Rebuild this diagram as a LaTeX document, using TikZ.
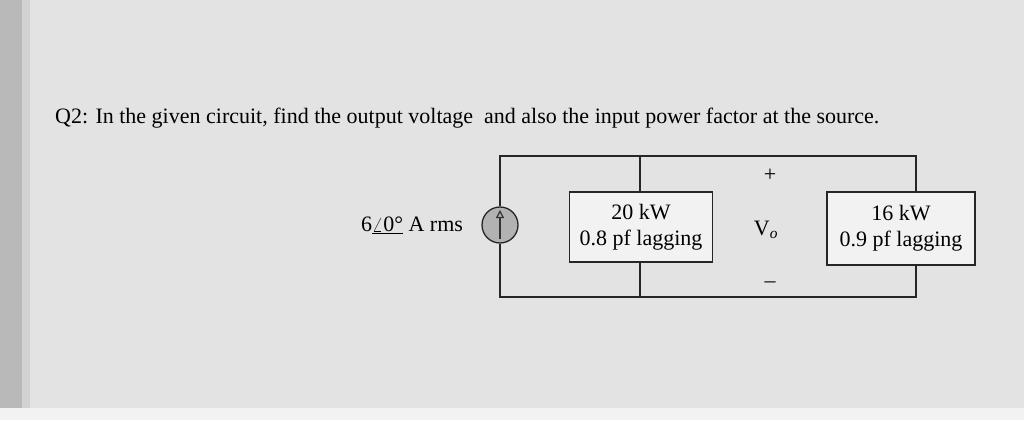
\documentclass[tikz,border=0pt]{standalone}
\usepackage{fontspec}
\setmainfont{Liberation Serif}
\usetikzlibrary{arrows.meta}
\begin{document}
\begin{tikzpicture}[x=1pt,y=-1pt,
  wire/.style={line width=1.3pt,black!85},
  load/.style={draw=black!85,line width=1.3pt,fill=white!90!gray,minimum width=143pt,minimum height=70pt,align=center,font=\fontsize{22}{26}\selectfont},
  lbl/.style={font=\fontsize{22}{26}\selectfont}]
\useasboundingbox (0,0) rectangle (1024,420);
\fill[gray!22] (0,0) rectangle (1024,420);
\fill[gray!55] (0,0) rectangle (22,420);
\fill[gray!35] (22,0) rectangle (30,420);
\fill[gray!10] (0,408) rectangle (1024,420);
\node[lbl,anchor=west,inner sep=0pt] (title) at (55,118) {Q2: In the given circuit, find the output voltage\enspace and also the input power factor at the source.};
\coordinate (tl) at (500,156); \coordinate (tr) at (916,156);
\coordinate (bl) at (500,297); \coordinate (br) at (916,297);
\coordinate (tm) at (640,156); \coordinate (bm) at (640,297);
\node[circle,draw=black!85,line width=1.3pt,fill=gray!60,minimum width=32pt,minimum height=36pt,inner sep=0pt] (src) at (500,225) {};
\coordinate (a1) at (500,239); \coordinate (a2) at (500,210);
\draw[line width=2pt,black!80,-{Triangle[length=8pt,width=8pt,open,line width=1.2pt]}] (a1) -- (a2);
\node[load] (l1) at (641,227) {20 kW\\0.8 pf lagging};
\node[load,minimum width=148pt,minimum height=73pt] (l2) at (901,228.5) {16 kW\\0.9 pf lagging};
\draw[wire] (src.north) -- (tl) -- (tr) -- (l2.north -| tr);
\draw[wire] (src.south) -- (bl) -- (br) -- (l2.south -| br);
\draw[wire] (tm) -- (l1.north -| tm);
\draw[wire] (bm) -- (l1.south -| bm);
\node[lbl] (plus) at (770,175) {+};
\node[lbl] (vo) at (766,230) {V\textsubscript{\textit{o}}};
\node[lbl] (minus) at (770,285) {--};
\node[lbl] (srclbl) at (412,225) {6\underline{$\angle$0°} A rms};
\end{tikzpicture}
\end{document}
